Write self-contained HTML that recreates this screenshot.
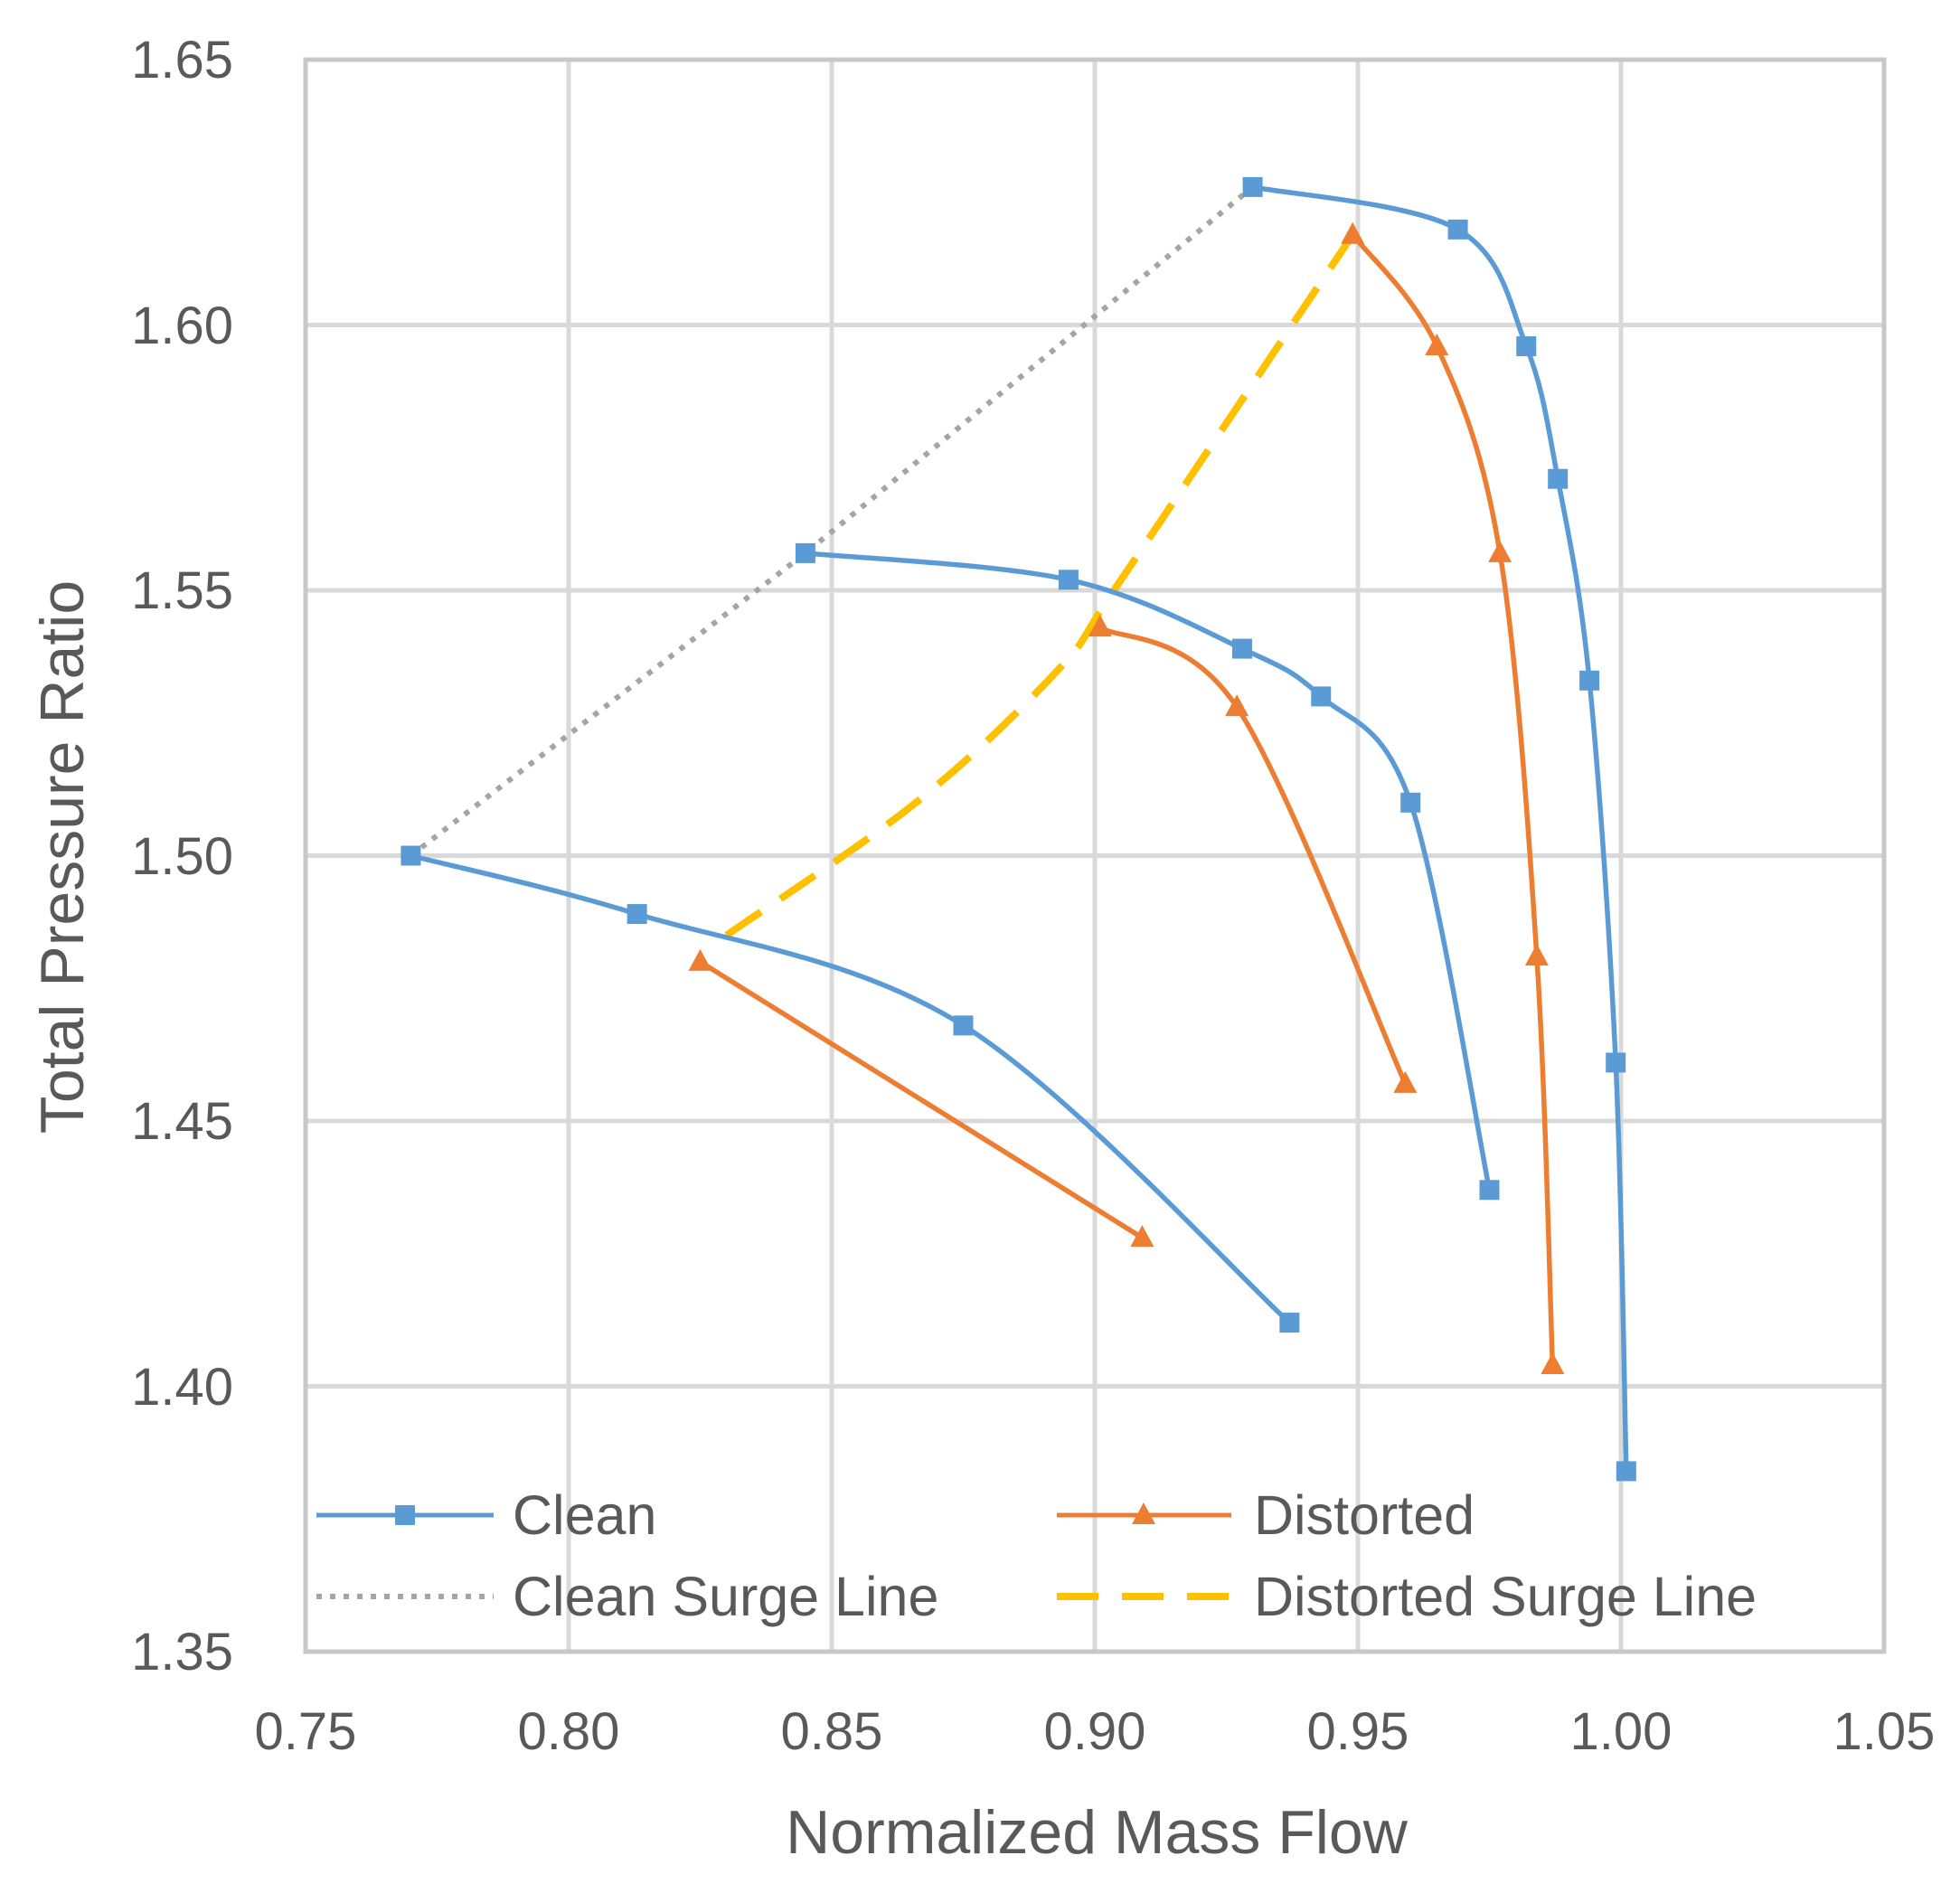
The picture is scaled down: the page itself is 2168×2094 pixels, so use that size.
<!DOCTYPE html>
<html><head><meta charset="utf-8"><style>
html,body{margin:0;padding:0;background:#fff}
svg{display:block}
text{font-family:"Liberation Sans",sans-serif;fill:#595959}
</style></head><body>
<svg id="s" width="2168" height="2094" viewBox="0 0 2168 2094" xmlns="http://www.w3.org/2000/svg">
<g id="grid" stroke="#d9d9d9" stroke-width="5" fill="none"></g>
<rect x="338" y="66" width="1746" height="1761" fill="none" stroke="#c8c8c8" stroke-width="5"/>
<g font-size="58" text-anchor="end">
<text x="258" y="86">1.65</text>
<text x="258" y="380">1.60</text>
<text x="258" y="673">1.55</text>
<text x="258" y="967">1.50</text>
<text x="258" y="1260">1.45</text>
<text x="258" y="1554">1.40</text>
<text x="258" y="1847">1.35</text>
</g>
<g font-size="58" text-anchor="middle">
<text x="338" y="1935">0.75</text>
<text x="629" y="1935">0.80</text>
<text x="920" y="1935">0.85</text>
<text x="1211" y="1935">0.90</text>
<text x="1502" y="1935">0.95</text>
<text x="1793" y="1935">1.00</text>
<text x="2084" y="1935">1.05</text>
</g>
<text x="1213" y="2050" font-size="68" text-anchor="middle">Normalized Mass Flow</text>
<text transform="translate(92,948) rotate(-90)" font-size="68" text-anchor="middle">Total Pressure Ratio</text>
<g id="series"></g>
<g font-size="61">
<line x1="350" y1="1676" x2="546" y2="1676" stroke="#5b9bd5" stroke-width="5"/>
<rect x="437" y="1665" width="22" height="22" fill="#5b9bd5"/>
<text x="567" y="1697">Clean</text>
<line x1="1169" y1="1676" x2="1362" y2="1676" stroke="#ed7d31" stroke-width="5"/>
<polygon points="1265,1662 1278,1686 1252,1686" fill="#ed7d31"/>
<text x="1387" y="1697">Distorted</text>
<line x1="350" y1="1766" x2="546" y2="1766" stroke="#a5a5a5" stroke-width="6" stroke-dasharray="6 9"/>
<text x="567" y="1787">Clean Surge Line</text>
<line x1="1169" y1="1766" x2="1362" y2="1766" stroke="#ffc000" stroke-width="8" stroke-dasharray="46 26"/>
<text x="1387" y="1787">Distorted Surge Line</text>
</g>
</svg>
<script>
var NS="http://www.w3.org/2000/svg";
function X(v){return 338+(v-0.75)/0.3*1746}
function Y(p){return 66+(1.65-p)/0.3*1761}
var g=document.getElementById('grid');
for(var i=1;i<6;i++){var x=338+i*291;var l=document.createElementNS(NS,'line');l.setAttribute('x1',x);l.setAttribute('x2',x);l.setAttribute('y1',66);l.setAttribute('y2',1827);g.appendChild(l);
var y=66+i*293.5;l=document.createElementNS(NS,'line');l.setAttribute('x1',338);l.setAttribute('x2',2084);l.setAttribute('y1',y);l.setAttribute('y2',y);g.appendChild(l);}
function path(pts,smooth){var P=pts.map(function(p){return[X(p[0]),Y(p[1])]});var d='M'+P[0][0]+','+P[0][1];
if(!smooth){for(var i=1;i<P.length;i++)d+='L'+P[i][0]+','+P[i][1];return d;}
for(var i=0;i<P.length-1;i++){var p0=P[Math.max(0,i-1)],p1=P[i],p2=P[i+1],p3=P[Math.min(P.length-1,i+2)];
var c1=[p1[0]+(p2[0]-p0[0])/6,p1[1]+(p2[1]-p0[1])/6],c2=[p2[0]-(p3[0]-p1[0])/6,p2[1]-(p3[1]-p1[1])/6];
d+='C'+c1[0]+','+c1[1]+' '+c2[0]+','+c2[1]+' '+p2[0]+','+p2[1];}return d;}
var S=document.getElementById('series');
function add(pts,color,w,dash,smooth,marker){var p=document.createElementNS(NS,'path');p.setAttribute('d',path(pts,smooth));p.setAttribute('fill','none');p.setAttribute('stroke',color);p.setAttribute('stroke-width',w);if(dash)p.setAttribute('stroke-dasharray',dash);S.appendChild(p);
if(marker)pts.forEach(function(q){var x=X(q[0]),y=Y(q[1]),m;
if(marker=='sq'){m=document.createElementNS(NS,'rect');m.setAttribute('x',x-11);m.setAttribute('y',y-11);m.setAttribute('width',22);m.setAttribute('height',22);}
else{m=document.createElementNS(NS,'polygon');m.setAttribute('points',x+','+(y-14)+' '+(x+13)+','+(y+10)+' '+(x-13)+','+(y+10));}
m.setAttribute('fill',color);S.appendChild(m);});}
add([[0.770,1.500],[0.845,1.557],[0.930,1.626]],'#a5a5a5',6,'6 9',false);
add([[0.830,1.485],[0.866,1.510],[0.893,1.535],[0.905,1.552],[0.949,1.617]],'#ffc000',8,'46 26',true);
add([[0.930,1.626],[0.969,1.618],[0.982,1.596],[0.988,1.571],[0.994,1.533],[0.999,1.461],[1.001,1.384]],'#5b9bd5',5.5,null,true,'sq');
add([[0.845,1.557],[0.895,1.552],[0.928,1.539],[0.943,1.530],[0.960,1.510],[0.975,1.437]],'#5b9bd5',5.5,null,true,'sq');
add([[0.770,1.500],[0.813,1.489],[0.875,1.468],[0.937,1.412]],'#5b9bd5',5.5,null,true,'sq');
add([[0.949,1.617],[0.965,1.596],[0.977,1.557],[0.984,1.481],[0.987,1.404]],'#ed7d31',5.5,null,true,'tri');
add([[0.901,1.543],[0.927,1.528],[0.959,1.457]],'#ed7d31',5.5,null,true,'tri');
add([[0.825,1.480],[0.909,1.428]],'#ed7d31',5.5,null,true,'tri');
</script>
</body></html>
